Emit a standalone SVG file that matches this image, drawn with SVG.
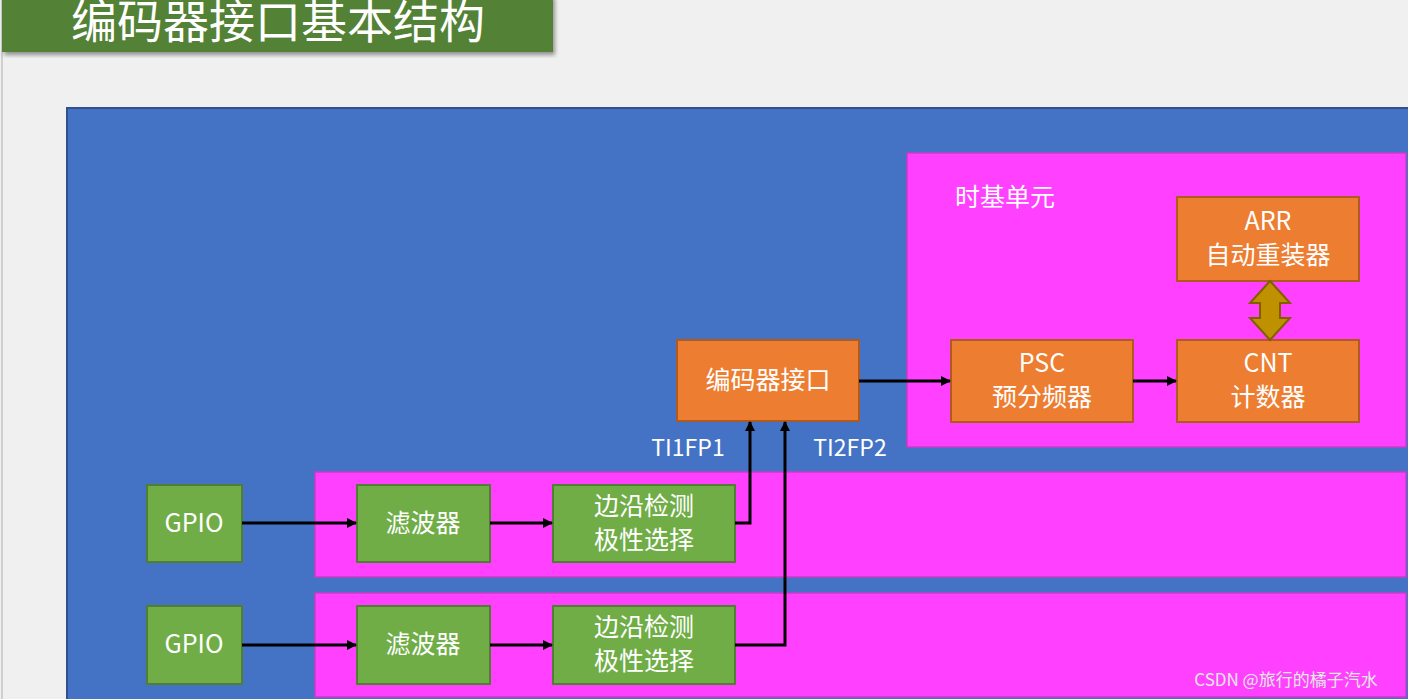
<svg xmlns="http://www.w3.org/2000/svg" width="1408" height="699" viewBox="0 0 1408 699">
<style>
text{font-family:"Noto Sans CJK SC","Noto Sans",sans-serif;fill:#fff;text-anchor:middle}
.o{fill:#ed7d31;stroke:#ae5a21;stroke-width:2}
.g{fill:#70ad47;stroke:#507e32;stroke-width:2}
.m{fill:#ff40ff;stroke:#c83cc8;stroke-width:1.5}
.t{font-size:25px}
.c line,.c polyline{stroke:#000;stroke-width:3;fill:none;marker-end:url(#a)}
</style>
<defs>
<marker id="a" markerWidth="10" markerHeight="10" refX="9" refY="5" orient="auto" markerUnits="userSpaceOnUse"><path d="M0,0L10,5L0,10z" fill="#000"/></marker>
<filter id="s"><feDropShadow dx="2" dy="3" stdDeviation="2" flood-opacity="0.4"/></filter>
</defs>
<rect width="1408" height="699" fill="#f0f0f0"/>
<line x1="2" y1="0" x2="2" y2="699" stroke="#d0d0d0" stroke-width="2"/>
<g id="title"><rect x="2" y="-5" width="551" height="57" fill="#538135" filter="url(#s)"/>
<text x="278" y="38" style="font-size:46px">编码器接口基本结构</text></g>
<rect id="bg" x="67" y="108" width="1345" height="595" fill="#4472c4" stroke="#2f528f" stroke-width="2"/>
<g id="timebase"><rect class="m" x="907" y="153" width="499" height="294"/><text x="1005" y="206" class="t">时基单元</text></g>
<rect id="row1" class="m" x="315" y="472" width="1091" height="105"/>
<rect id="row2" class="m" x="315" y="593" width="1091" height="104"/>
<g id="enc"><rect class="o" x="677" y="340" width="182" height="81"/><text x="768" y="389" class="t">编码器接口</text></g>
<g id="psc"><rect class="o" x="951" y="340" width="182" height="82"/><text x="1042" y="372" class="t">PSC</text><text x="1042" y="406" class="t">预分频器</text></g>
<g id="cnt"><rect class="o" x="1177" y="340" width="182" height="82"/><text x="1268" y="372" class="t">CNT</text><text x="1268" y="406" class="t">计数器</text></g>
<g id="arr"><rect class="o" x="1177" y="197" width="182" height="84"/><text x="1268" y="230" class="t">ARR</text><text x="1268" y="264" class="t">自动重装器</text></g>
<g id="dbl"><path d="M1270,281L1290,303L1280,303L1280,318L1290,318L1270,340L1250,318L1260,318L1260,303L1250,303Z" fill="#bf9000" stroke="#7f6000" stroke-width="2"/></g>
<g id="gpio1"><rect class="g" x="147" y="485" width="95" height="77"/><text x="194" y="532" class="t">GPIO</text></g>
<g id="f1"><rect class="g" x="357" y="485" width="133" height="77"/><text x="423" y="532" class="t">滤波器</text></g>
<g id="e1"><rect class="g" x="553" y="485" width="182" height="77"/><text x="644" y="515" class="t">边沿检测</text><text x="644" y="549" class="t">极性选择</text></g>
<g id="gpio2"><rect class="g" x="147" y="606" width="95" height="78"/><text x="194" y="653" class="t">GPIO</text></g>
<g id="f2"><rect class="g" x="357" y="606" width="133" height="78"/><text x="423" y="653" class="t">滤波器</text></g>
<g id="e2"><rect class="g" x="553" y="606" width="182" height="78"/><text x="644" y="636" class="t">边沿检测</text><text x="644" y="670" class="t">极性选择</text></g>
<g class="c" id="connectors">
<line x1="242" y1="523" x2="356" y2="523"/>
<line x1="490" y1="523" x2="552" y2="523"/>
<line x1="242" y1="645" x2="356" y2="645"/>
<line x1="490" y1="645" x2="552" y2="645"/>
<polyline points="735,523 750,523 750,422"/>
<polyline points="735,645 785,645 785,422"/>
<line x1="859" y1="381" x2="950" y2="381"/>
<line x1="1133" y1="381" x2="1176" y2="381"/>
</g>
<text x="688" y="456" style="font-size:23px">TI1FP1</text>
<text x="850" y="456" style="font-size:23px">TI2FP2</text>
<text x="1286" y="686" style="font-size:17px;fill:#e8e8e8">CSDN @旅行的橘子汽水</text>
</svg>
